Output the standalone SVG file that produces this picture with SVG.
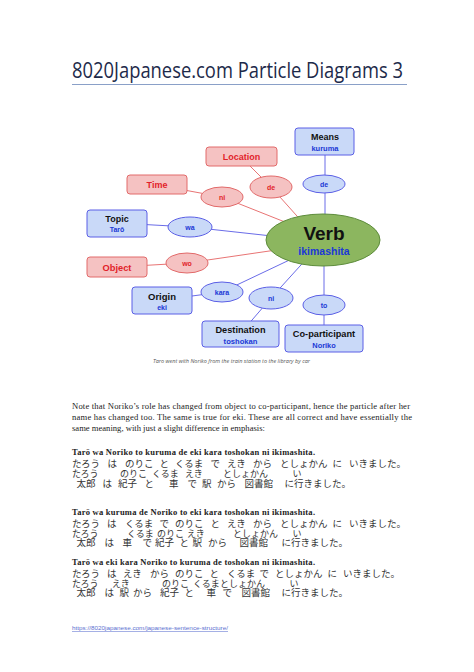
<svg xmlns="http://www.w3.org/2000/svg" width="474" height="672" viewBox="0 0 474 672">
<style>
.bg{fill:#ffffff}
.rbox{fill:#f5c2c2;stroke:#e26a6a;stroke-width:1}
.bbox{fill:#c9d9f8;stroke:#5b5fe6;stroke-width:1}
.rl{stroke:#e87474;stroke-width:1;fill:none}
.bl{stroke:#6a6ce8;stroke-width:1;fill:none}
.lab{font-family:"Liberation Sans",Arial,sans-serif;font-weight:bold;text-anchor:middle}
.rt{fill:#e21f2a}
.kt{fill:#111111}
.bt{fill:#1b38d6}
.body{font-family:"Liberation Serif","Times New Roman",serif;font-size:8.6px;fill:#222222}
.rom{font-family:"Liberation Serif","Times New Roman",serif;font-size:8.5px;font-weight:bold;fill:#222222}
.jp{font-family:"Noto Sans CJK JP","Noto Sans CJK SC",sans-serif;font-size:9.5px;fill:#333333}
.fu{font-family:"Noto Sans CJK JP","Noto Sans CJK SC",sans-serif;font-size:9px;fill:#333333}
</style>
<rect class="bg" x="0" y="0" width="474" height="672"/>
<text x="72" y="78" font-family="'Open Sans','Noto Sans',sans-serif" font-size="21" fill="#1d2a4a" textLength="331" lengthAdjust="spacingAndGlyphs">8020Japanese.com Particle Diagrams 3</text>
<line x1="72" y1="84.5" x2="407" y2="84.5" stroke="#8aa0c8" stroke-width="1"/>
<g id="connectors">
<line class="bl" x1="325" y1="141" x2="325" y2="240"/>
<line class="rl" x1="241" y1="157" x2="271" y2="187"/>
<line class="rl" x1="271" y1="187" x2="305" y2="225"/>
<line class="rl" x1="157" y1="185" x2="222" y2="197"/>
<line class="rl" x1="222" y1="197" x2="300" y2="228"/>
<line class="bl" x1="117" y1="223" x2="190" y2="227"/>
<line class="bl" x1="190" y1="227" x2="290" y2="238"/>
<line class="rl" x1="117" y1="267" x2="187" y2="263"/>
<line class="rl" x1="187" y1="263" x2="290" y2="248"/>
<line class="bl" x1="162" y1="300" x2="222" y2="292"/>
<line class="bl" x1="222" y1="292" x2="300" y2="255"/>
<line class="bl" x1="240" y1="334" x2="271" y2="298"/>
<line class="bl" x1="271" y1="298" x2="310" y2="255"/>
<line class="bl" x1="324" y1="250" x2="324" y2="338"/>
</g>
<g id="means">
<rect class="bbox" x="295" y="128" width="59" height="27" rx="3"/>
<text class="lab kt" x="325" y="140" font-size="9">Means</text>
<text class="lab bt" x="325" y="150.5" font-size="7.5">kuruma</text>
</g>
<g id="de-means">
<ellipse class="bbox" cx="324" cy="184" rx="21" ry="9"/>
<text class="lab bt" x="324" y="186.5" font-size="7">de</text>
</g>
<g id="location">
<rect class="rbox" x="206" y="147" width="71" height="19" rx="3"/>
<text class="lab rt" x="241.5" y="160" font-size="9">Location</text>
</g>
<g id="de-location">
<ellipse class="rbox" cx="271" cy="187" rx="21" ry="11"/>
<text class="lab rt" x="271" y="189.5" font-size="7">de</text>
</g>
<g id="time">
<rect class="rbox" x="127" y="175" width="60" height="19" rx="3"/>
<text class="lab rt" x="157" y="188" font-size="9">Time</text>
</g>
<g id="ni-time">
<ellipse class="rbox" cx="222" cy="197" rx="21" ry="10"/>
<text class="lab rt" x="222" y="199.5" font-size="7">ni</text>
</g>
<g id="topic">
<rect class="bbox" x="87" y="210" width="60" height="27" rx="3"/>
<text class="lab kt" x="117" y="222" font-size="9">Topic</text>
<text class="lab bt" x="117" y="232" font-size="7">Tarō</text>
</g>
<g id="wa">
<ellipse class="bbox" cx="190" cy="227" rx="22" ry="10"/>
<text class="lab bt" x="190" y="229.5" font-size="7">wa</text>
</g>
<g id="object">
<rect class="rbox" x="87" y="257" width="60" height="20" rx="3"/>
<text class="lab rt" x="117" y="270.5" font-size="9.3">Object</text>
</g>
<g id="wo">
<ellipse class="rbox" cx="187" cy="263" rx="21" ry="10"/>
<text class="lab rt" x="187" y="265.5" font-size="7">wo</text>
</g>
<g id="verb">
<ellipse cx="323" cy="240" rx="57" ry="26" fill="#8cb65f" stroke="#5d8c3b" stroke-width="1"/>
<text class="lab kt" x="324" y="240" font-size="19">Verb</text>
<text class="lab bt" x="324" y="255" font-size="10.5">ikimashita</text>
</g>
<g id="origin">
<rect class="bbox" x="132" y="287" width="60" height="27" rx="3"/>
<text class="lab kt" x="162" y="300" font-size="9.5">Origin</text>
<text class="lab bt" x="162" y="310" font-size="7">eki</text>
</g>
<g id="kara">
<ellipse class="bbox" cx="222" cy="292" rx="21" ry="10"/>
<text class="lab bt" x="222" y="294.5" font-size="7">kara</text>
</g>
<g id="ni-dest">
<ellipse class="bbox" cx="271" cy="298" rx="22" ry="11"/>
<text class="lab bt" x="271" y="300.5" font-size="7">ni</text>
</g>
<g id="to">
<ellipse class="bbox" cx="324" cy="305" rx="21" ry="10"/>
<text class="lab bt" x="324" y="307.5" font-size="7">to</text>
</g>
<g id="destination">
<rect class="bbox" x="202" y="321" width="77" height="26" rx="3"/>
<text class="lab kt" x="240.5" y="333" font-size="9.2">Destination</text>
<text class="lab bt" x="240.5" y="343.5" font-size="7.6">toshokan</text>
</g>
<g id="coparticipant">
<rect class="bbox" x="285" y="325" width="78" height="27" rx="3"/>
<text class="lab kt" x="324" y="337" font-size="9.2">Co-participant</text>
<text class="lab bt" x="324" y="347.5" font-size="7.4">Noriko</text>
</g>
<text x="231.5" y="363" font-family="'Open Sans','Noto Sans',sans-serif" font-style="italic" font-size="5" fill="#555555" text-anchor="middle" textLength="157" lengthAdjust="spacingAndGlyphs">Taro went with Noriko from the train station to the library by car</text>
<text class="body" x="72" y="409" textLength="338" lengthAdjust="spacing">Note that Noriko’s role has changed from object to co-participant, hence the particle after her</text>
<text class="body" x="72" y="420" textLength="340" lengthAdjust="spacing">name has changed too. The same is true for eki. These are all correct and have essentially the</text>
<text class="body" x="72" y="431">same meaning, with just a slight difference in emphasis:</text>
<text class="rom" x="72" y="455" textLength="243" lengthAdjust="spacing">Tarō wa Noriko to kuruma de eki kara toshokan ni ikimashita.</text>
<text class="jp" y="467"><tspan x="72">たろう</tspan><tspan x="107.5">は</tspan><tspan x="125">のりこ</tspan><tspan x="159.5">と</tspan><tspan x="175">くるま</tspan><tspan x="210.5">で</tspan><tspan x="227">えき</tspan><tspan x="253">から</tspan><tspan x="280">としょかん</tspan><tspan x="332.5">に</tspan><tspan x="349">いきました。</tspan></text>
<text class="fu" y="477"><tspan x="72">たろう</tspan><tspan x="120">のりこ</tspan><tspan x="152">くるま</tspan><tspan x="185">えき</tspan><tspan x="223">としょかん</tspan><tspan x="292.5">い</tspan></text>
<text class="jp" y="487"><tspan x="76.5">太郎</tspan><tspan x="102.5">は</tspan><tspan x="118">紀子</tspan><tspan x="144.5">と</tspan><tspan x="169">車</tspan><tspan x="187.5">で</tspan><tspan x="202">駅</tspan><tspan x="217">から</tspan><tspan x="244.5">図書館</tspan><tspan x="284.5">に行きました。</tspan></text>
<text class="rom" x="72" y="515" textLength="243" lengthAdjust="spacing">Tarō wa kuruma de Noriko to eki kara toshokan ni ikimashita.</text>
<text class="jp" y="527"><tspan x="72">たろう</tspan><tspan x="107">は</tspan><tspan x="125">くるま</tspan><tspan x="159.5">で</tspan><tspan x="175">のりこ</tspan><tspan x="210.5">と</tspan><tspan x="227">えき</tspan><tspan x="253">から</tspan><tspan x="280">としょかん</tspan><tspan x="332.5">に</tspan><tspan x="349">いきました。</tspan></text>
<text class="fu" y="536.5"><tspan x="72">たろう</tspan><tspan x="127">くるま</tspan><tspan x="157">のりこ</tspan><tspan x="187">えき</tspan><tspan x="233">としょかん</tspan><tspan x="292.5">い</tspan></text>
<text class="jp" y="546"><tspan x="76.5">太郎</tspan><tspan x="104.5">は</tspan><tspan x="122.5">車</tspan><tspan x="142.5">で</tspan><tspan x="155">紀子</tspan><tspan x="179.5">と</tspan><tspan x="192.5">駅</tspan><tspan x="208">から</tspan><tspan x="239.5">図書館</tspan><tspan x="281.5">に行きました。</tspan></text>
<text class="rom" x="72" y="565" textLength="243" lengthAdjust="spacing">Tarō wa eki kara Noriko to kuruma de toshokan ni ikimashita.</text>
<text class="jp" y="577"><tspan x="72">たろう</tspan><tspan x="107">は</tspan><tspan x="123">えき</tspan><tspan x="150">から</tspan><tspan x="175">のりこ</tspan><tspan x="209.5">と</tspan><tspan x="227">くるま</tspan><tspan x="259.5">で</tspan><tspan x="275">としょかん</tspan><tspan x="327.5">に</tspan><tspan x="343">いきました。</tspan></text>
<text class="fu" y="586.5"><tspan x="72">たろう</tspan><tspan x="112">えき</tspan><tspan x="162">のりこ</tspan><tspan x="193">くるま</tspan><tspan x="220">としょかん</tspan><tspan x="289.5">い</tspan></text>
<text class="jp" y="596"><tspan x="76.5">太郎</tspan><tspan x="104.5">は</tspan><tspan x="119.5">駅</tspan><tspan x="133">から</tspan><tspan x="160">紀子</tspan><tspan x="184.5">と</tspan><tspan x="206.5">車</tspan><tspan x="222.5">で</tspan><tspan x="241.5">図書館</tspan><tspan x="281.5">に行きました。</tspan></text>
<text x="72" y="630" font-family="'Liberation Sans',Arial,sans-serif" font-size="5.5" fill="#5b6fd0" text-decoration="underline" textLength="156" lengthAdjust="spacingAndGlyphs">https://8020japanese.com/japanese-sentence-structure/</text>
</svg>
